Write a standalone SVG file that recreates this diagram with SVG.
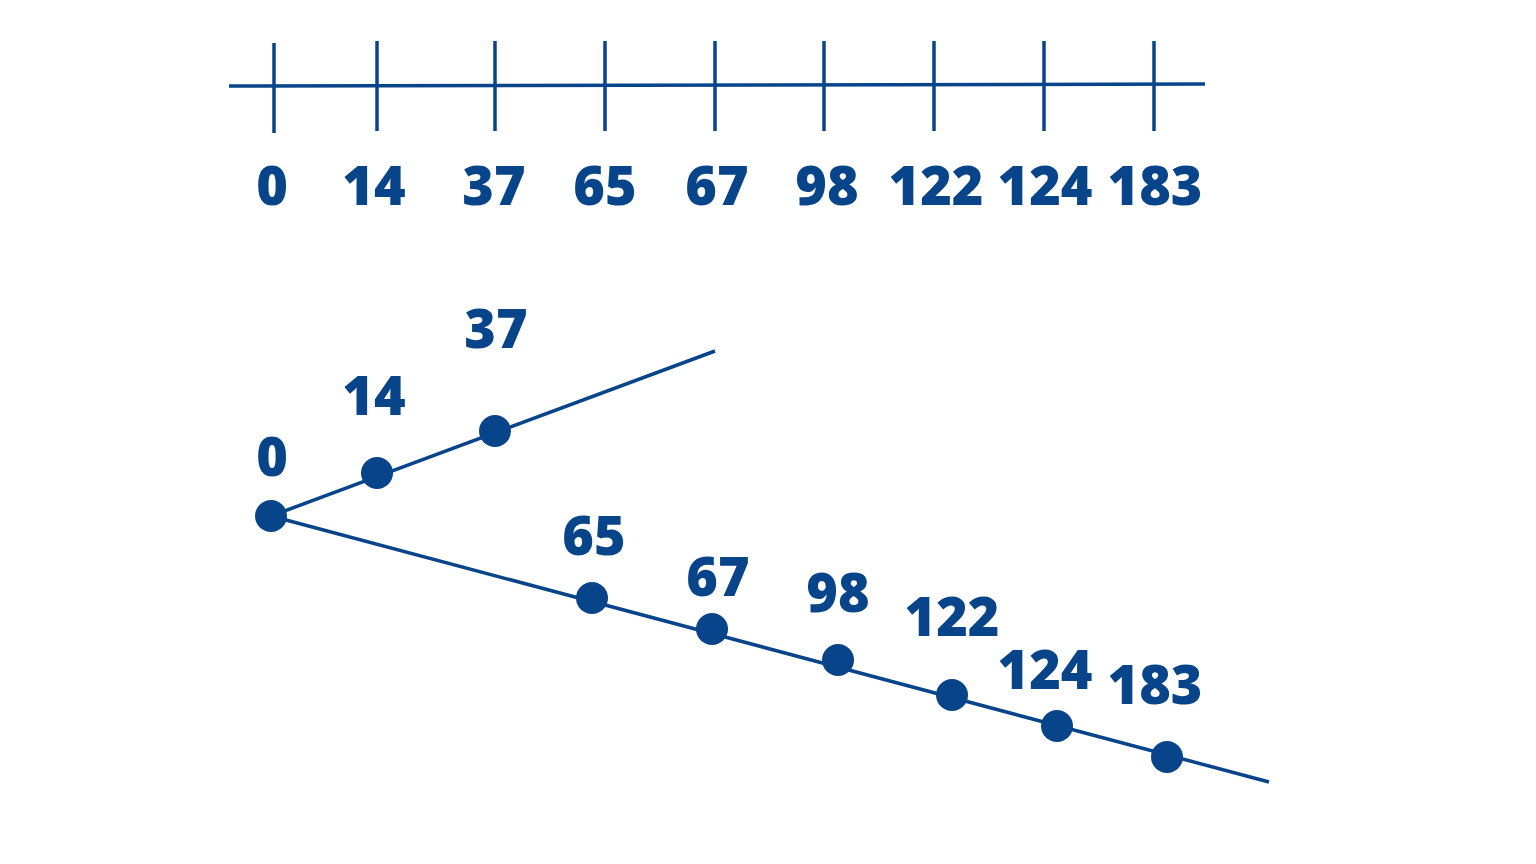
<svg xmlns="http://www.w3.org/2000/svg" width="1536" height="864" viewBox="0 0 1536 864">
<style>
.ln{stroke:#074489;stroke-width:3.5;fill:none;stroke-linecap:butt}
.dot{fill:#074489}
.lb{font-family:"Open Sans","Liberation Sans",sans-serif;font-weight:800;font-size:54px;fill:#074489;text-anchor:middle}
</style>
<rect width="1536" height="864" fill="#ffffff"/>
<g id="connectors">
<line class="ln" x1="229" y1="86" x2="1205" y2="84"/>
<line class="ln" x1="274" y1="43" x2="274" y2="133"/>
<line class="ln" x1="377" y1="41" x2="377" y2="131"/>
<line class="ln" x1="495" y1="41" x2="495" y2="131"/>
<line class="ln" x1="605" y1="41" x2="605" y2="131"/>
<line class="ln" x1="715" y1="41" x2="715" y2="131"/>
<line class="ln" x1="824" y1="41" x2="824" y2="131"/>
<line class="ln" x1="934" y1="41" x2="934" y2="131"/>
<line class="ln" x1="1044" y1="41" x2="1044" y2="131"/>
<line class="ln" x1="1154" y1="41" x2="1154" y2="131"/>
<line class="ln" x1="271" y1="516" x2="715" y2="351"/>
<line class="ln" x1="271" y1="516" x2="1269" y2="782"/>
</g>
<g id="top-labels">
<text class="lb" x="272" y="205">0</text>
<text class="lb" x="374" y="205">14</text>
<text class="lb" x="494" y="205">37</text>
<text class="lb" x="605" y="205">65</text>
<text class="lb" x="717" y="205">67</text>
<text class="lb" x="827" y="205">98</text>
<text class="lb" x="936" y="205">122</text>
<text class="lb" x="1045" y="205">124</text>
<text class="lb" x="1155" y="205">183</text>
</g>
<g id="n0"><circle class="dot" cx="271" cy="516" r="16"/><text class="lb" x="272" y="476">0</text></g>
<g id="n14"><circle class="dot" cx="377" cy="473" r="16"/><text class="lb" x="374" y="415">14</text></g>
<g id="n37"><circle class="dot" cx="495" cy="431" r="16"/><text class="lb" x="496" y="348">37</text></g>
<g id="n65"><circle class="dot" cx="592" cy="598" r="16"/><text class="lb" x="594" y="555">65</text></g>
<g id="n67"><circle class="dot" cx="712" cy="629" r="16"/><text class="lb" x="718" y="596">67</text></g>
<g id="n98"><circle class="dot" cx="838" cy="660" r="16"/><text class="lb" x="838" y="612">98</text></g>
<g id="n122"><circle class="dot" cx="952" cy="695" r="16"/><text class="lb" x="952" y="636">122</text></g>
<g id="n124"><circle class="dot" cx="1057" cy="726" r="16"/><text class="lb" x="1045" y="689">124</text></g>
<g id="n183"><circle class="dot" cx="1167" cy="757" r="16"/><text class="lb" x="1155" y="704">183</text></g>
</svg>
